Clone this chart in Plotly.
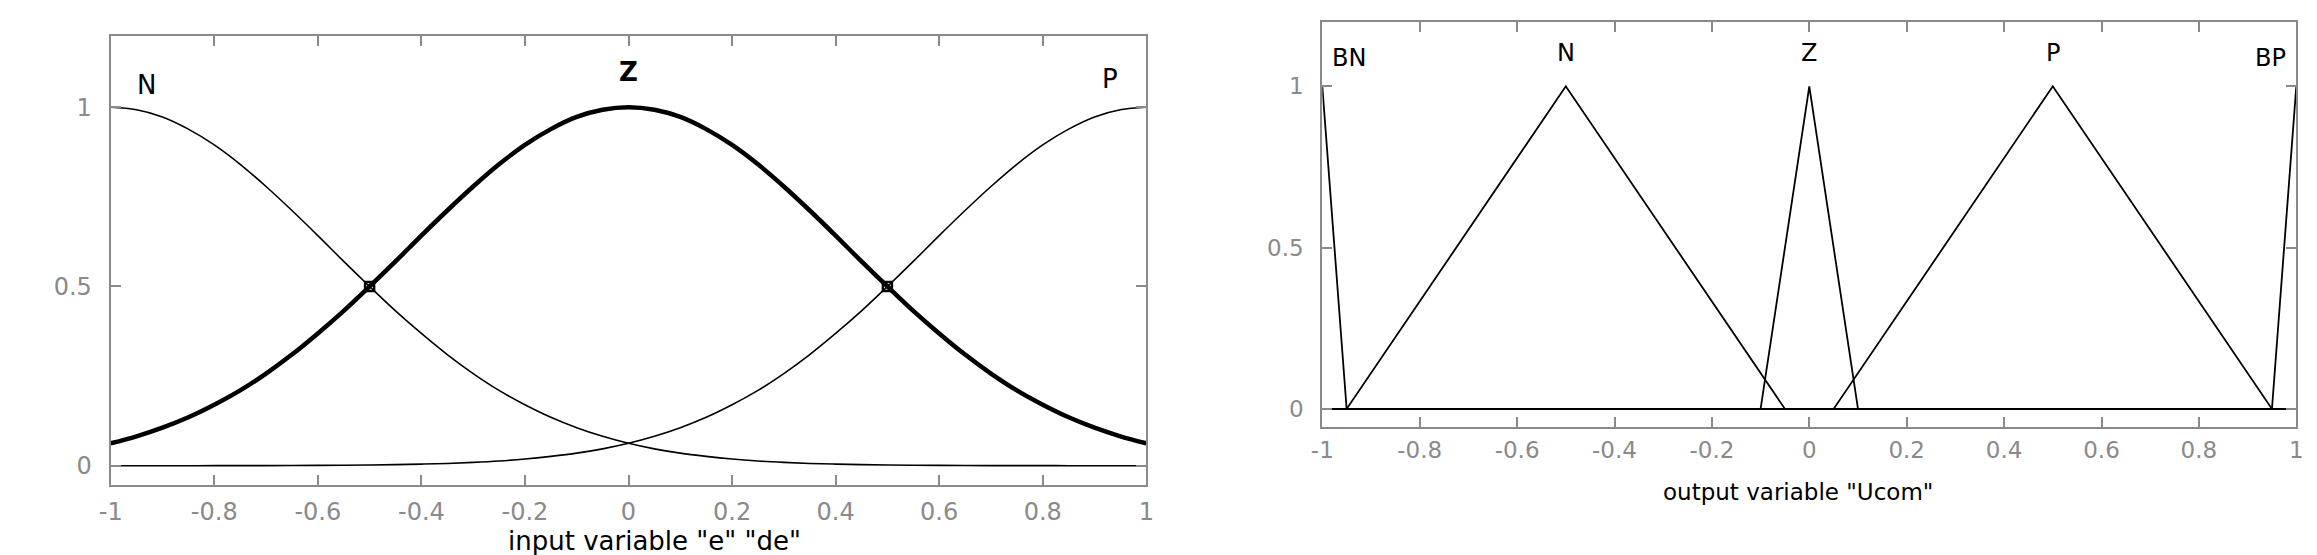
import plotly.graph_objects as go

W, H = 2317, 555

# ---------------- Left panel: input variable "e" "de" ----------------
in_x = [-1.0, -0.95, -0.9, -0.85, -0.8, -0.75, -0.7, -0.65, -0.6, -0.55, -0.5,
        -0.45, -0.4, -0.35, -0.3, -0.25, -0.2, -0.15, -0.1, -0.05, 0.0,
        0.05, 0.1, 0.15, 0.2, 0.25, 0.3, 0.35, 0.4, 0.45, 0.5,
        0.55, 0.6, 0.65, 0.7, 0.75, 0.8, 0.85, 0.9, 0.95, 1.0]
in_N = [1.0, 0.993, 0.973, 0.939, 0.895, 0.841, 0.779, 0.712, 0.642, 0.570, 0.5,
        0.432, 0.369, 0.310, 0.257, 0.210, 0.170, 0.135, 0.106, 0.082, 0.0625,
        0.047, 0.035, 0.026, 0.0185, 0.013, 0.0092, 0.0063, 0.0044, 0.003, 0.002,
        0.0013, 0.0008, 0.0005, 0.0003, 0.0002, 0.0001, 0.0, 0.0, 0.0, 0.0]
in_Z = [0.0625, 0.082, 0.106, 0.135, 0.170, 0.210, 0.257, 0.310, 0.369, 0.432, 0.5,
        0.570, 0.642, 0.712, 0.779, 0.841, 0.895, 0.939, 0.973, 0.993, 1.0,
        0.993, 0.973, 0.939, 0.895, 0.841, 0.779, 0.712, 0.642, 0.570, 0.5,
        0.432, 0.369, 0.310, 0.257, 0.210, 0.170, 0.135, 0.106, 0.082, 0.0625]
in_P = [0.0, 0.0, 0.0, 0.0, 0.0001, 0.0002, 0.0003, 0.0005, 0.0008, 0.0013,
        0.002, 0.003, 0.0044, 0.0063, 0.0092, 0.013, 0.0185, 0.026, 0.035, 0.047,
        0.0625, 0.082, 0.106, 0.135, 0.170, 0.210, 0.257, 0.310, 0.369, 0.432, 0.5,
        0.570, 0.642, 0.712, 0.779, 0.841, 0.895, 0.939, 0.973, 0.993, 1.0]
in_cross_x = [-0.5, 0.5]
in_cross_y = [0.5, 0.5]
in_labels = ["N", "<b>Z</b>", "P"]
in_label_x = [-0.93, 0.0, 0.93]
in_label_y = [1.062, 1.098, 1.079]
in_title = 'input variable "e" "de"'

# ---------------- Right panel: output variable "Ucom" ----------------
out_BN_x = [-1.0, -0.95, 1.0]
out_BN_y = [1.0, 0.0, 0.0]
out_N_x = [-1.0, -0.95, -0.5, -0.05, 1.0]
out_N_y = [0.0, 0.0, 1.0, 0.0, 0.0]
out_Z_x = [-1.0, -0.1, 0.0, 0.1, 1.0]
out_Z_y = [0.0, 0.0, 1.0, 0.0, 0.0]
out_P_x = [-1.0, 0.05, 0.5, 0.95, 1.0]
out_P_y = [0.0, 0.0, 1.0, 0.0, 0.0]
out_BP_x = [-1.0, 0.95, 1.0]
out_BP_y = [0.0, 0.0, 1.0]
out_labels = ["BN", "N", "Z", "P", "BP"]
out_label_x = [-0.945, -0.5, 0.0, 0.5, 0.948]
out_label_y = [1.088, 1.103, 1.103, 1.103, 1.088]
out_title = 'output variable "Ucom"'

# ---------------- Axis ticks ----------------
x_tickvals = [-1, -0.8, -0.6, -0.4, -0.2, 0, 0.2, 0.4, 0.6, 0.8, 1]
x_ticktext = ["-1", "-0.8", "-0.6", "-0.4", "-0.2", "0", "0.2", "0.4", "0.6", "0.8", "1"]
y_tickvals = [0, 0.5, 1]
y_ticktext = ["0", "0.5", "1"]


def px_x(p):
    return p / W


def px_y(p):
    return 1 - p / H


FONT = "DejaVu Sans"
GRAY = "#8a8a8a"

fig = go.Figure()

# left panel traces
fig.add_trace(go.Scatter(x=in_x, y=in_N, mode="lines", line=dict(color="black", width=1.6, shape="spline"),
                         xaxis="x", yaxis="y", hoverinfo="skip"))
fig.add_trace(go.Scatter(x=in_x, y=in_P, mode="lines", line=dict(color="black", width=1.6, shape="spline"),
                         xaxis="x", yaxis="y", hoverinfo="skip"))
fig.add_trace(go.Scatter(x=in_x, y=in_Z, mode="lines", line=dict(color="black", width=4.5, shape="spline"),
                         xaxis="x", yaxis="y", hoverinfo="skip"))
fig.add_trace(go.Scatter(x=in_cross_x, y=in_cross_y, mode="markers",
                         marker=dict(symbol="square-open", size=9, color="black", line=dict(width=2.5, color="black")),
                         xaxis="x", yaxis="y", hoverinfo="skip"))

# right panel traces
for xs, ys in [(out_BN_x, out_BN_y), (out_N_x, out_N_y), (out_Z_x, out_Z_y),
               (out_P_x, out_P_y), (out_BP_x, out_BP_y)]:
    fig.add_trace(go.Scatter(x=xs, y=ys, mode="lines", line=dict(color="black", width=1.8),
                             xaxis="x2", yaxis="y2", hoverinfo="skip"))

# domains (pixel-derived)
L_left, L_right = 102.7, 1138.3
L_top, L_bot = 27.6, 477.4
R_left, R_right = 1314.3, 2288.3
R_top, R_bot = 13.8, 418.7

axis_common = dict(showline=True, linecolor=GRAY, linewidth=2, mirror="ticks",
                   ticks="inside", ticklen=10, tickwidth=1.5, tickcolor=GRAY,
                   showgrid=False, zeroline=False, fixedrange=True, automargin=False)

annotations = []
for t, xv, yv in zip(in_labels, in_label_x, in_label_y):
    annotations.append(dict(x=xv, y=yv, xref="x", yref="y", text=t, showarrow=False,
                            font=dict(family=FONT, size=26, color="black"), xanchor="center", yanchor="middle"))
for t, xv, yv in zip(out_labels, out_label_x, out_label_y):
    annotations.append(dict(x=xv, y=yv, xref="x2", yref="y2", text=t, showarrow=False,
                            font=dict(family=FONT, size=24, color="black"), xanchor="center", yanchor="middle"))
annotations.append(dict(x=px_x(646), y=px_y(533), xref="paper", yref="paper", text=in_title, showarrow=False,
                        font=dict(family=FONT, size=26, color="black"), xanchor="center", yanchor="middle"))
annotations.append(dict(x=px_x(1790), y=px_y(484), xref="paper", yref="paper", text=out_title, showarrow=False,
                        font=dict(family=FONT, size=23, color="black"), xanchor="center", yanchor="middle"))

fig.update_layout(
    width=W, height=H,
    margin=dict(l=0, r=0, t=0, b=0),
    paper_bgcolor="white", plot_bgcolor="white",
    showlegend=False,
    xaxis=dict(domain=[px_x(L_left), px_x(L_right)], range=[-1, 1], anchor="y",
               tickvals=x_tickvals, ticktext=x_ticktext,
               tickfont=dict(family=FONT, size=24, color=GRAY), ticklabelstandoff=4, **axis_common),
    yaxis=dict(domain=[px_y(L_bot), px_y(L_top)], range=[-0.055, 1.2], anchor="x",
               tickvals=y_tickvals, ticktext=y_ticktext,
               tickfont=dict(family=FONT, size=24, color=GRAY), ticklabelstandoff=12, **axis_common),
    xaxis2=dict(domain=[px_x(R_left), px_x(R_right)], range=[-1, 1], anchor="y2",
                tickvals=x_tickvals, ticktext=x_ticktext,
                tickfont=dict(family=FONT, size=23, color=GRAY), ticklabelstandoff=2, **axis_common),
    yaxis2=dict(domain=[px_y(R_bot), px_y(R_top)], range=[-0.055, 1.2], anchor="x2",
                tickvals=y_tickvals, ticktext=y_ticktext,
                tickfont=dict(family=FONT, size=23, color=GRAY), ticklabelstandoff=12, **axis_common),
    annotations=annotations,
)

fig.write_html("out.html")
